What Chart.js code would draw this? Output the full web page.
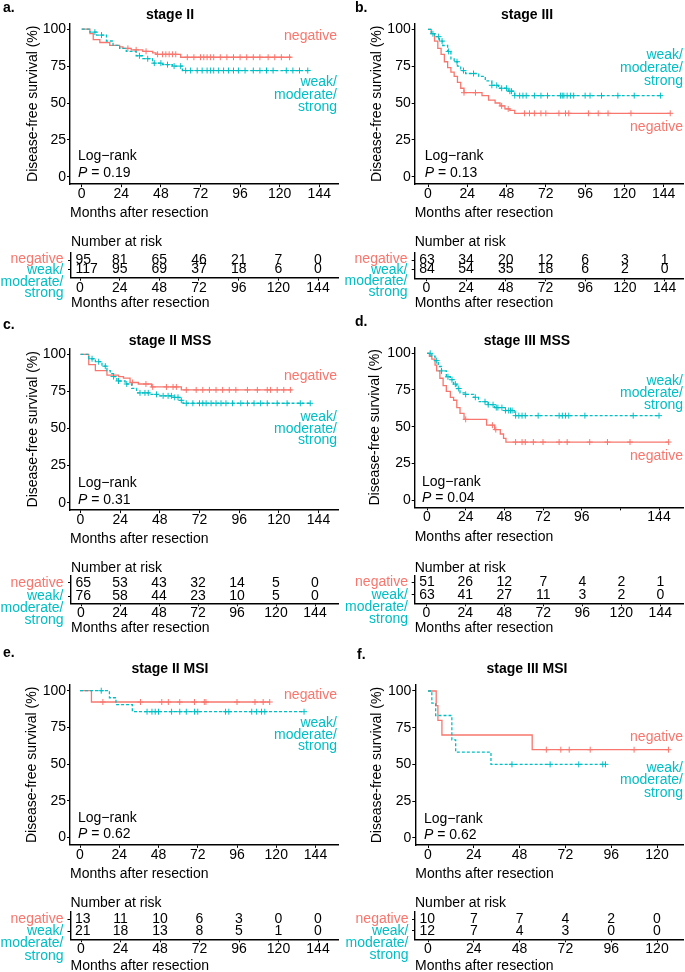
<!DOCTYPE html>
<html>
<head>
<meta charset="utf-8">
<script src="https://cdn.jsdelivr.net/npm/chart.js@4.4.1/dist/chart.umd.min.js"></script>
<style>
html, body { margin: 0; padding: 0; background: #fff; }
#page { position: relative; width: 685px; height: 972px; overflow: hidden; }
canvas { position: absolute; }
</style>
</head>
<body>
<div id="page"></div>
<script>
// ---- data ----
const xTicks144 = [0, 24, 48, 72, 96, 120, 144];
const xTicks120 = [0, 24, 48, 72, 96, 120];
const xLabelsD = ['0', '24', '48', '72', '96', '', '144'];
const yTicks = [0, 25, 50, 75, 100];
const riskTimes = [0, 24, 48, 72, 96, 120, 144];
const riskTimesF = [0, 24, 48, 72, 96, 120];

// stage II
const aNegT = [0, 5, 7, 11, 17, 23, 25, 30, 37, 43, 45, 60, 127];
const aNegS = [100, 97, 93, 91, 89, 88, 87, 86, 85, 84, 83, 81, 81];
const aNegC = [28, 33, 39, 46, 49, 51, 53, 55, 57, 64, 68, 72, 74, 76, 78, 80, 84, 88, 92, 96, 100, 104, 108, 113, 117, 121, 126];
const aPosT = [0, 5, 9, 15, 19, 23, 27, 33, 37, 43, 49, 55, 61, 138];
const aPosS = [100, 98, 96, 92, 89, 87, 85, 82, 80, 77, 76, 75, 72, 72];
const aPosC = [8, 12, 35, 40, 44, 48, 52, 56, 60, 63, 66, 70, 73, 76, 78, 80, 83, 86, 89, 92, 95, 99, 104, 108, 112, 116, 124, 128, 132, 137];
const aRiskNeg = [95, 81, 65, 46, 21, 7, 0];
const aRiskPos = [117, 95, 69, 37, 18, 6, 0];

// stage III
const bNegT = [0, 2, 4, 6, 8, 10, 12, 14, 16, 18, 20, 22, 33, 37, 41, 44, 47, 50, 53, 148];
const bNegS = [100, 97, 92, 87, 83, 78, 74, 71, 68, 64, 60, 57, 55, 52, 50, 48, 46, 45, 43, 43];
const bNegC = [22, 29, 45, 49, 59, 62, 65, 69, 72, 80, 84, 86, 98, 104, 110, 124, 148];
const bPosT = [0, 2, 4, 7, 9, 12, 14, 16, 18, 20, 23, 31, 35, 39, 43, 49, 53, 142];
const bPosS = [100, 97, 95, 92, 89, 85, 80, 78, 75, 72, 70, 68, 65, 62, 60, 58, 55, 55];
const bPosC = [3, 6.5, 8.6, 12.6, 17.7, 21.7, 27.8, 39, 42, 45, 48, 50, 51, 53, 56, 58, 60, 65, 69, 73, 81, 82, 83, 85, 87, 89, 96, 99, 106, 116, 126, 142];
const bRiskNeg = [63, 34, 20, 12, 6, 3, 1];
const bRiskPos = [84, 54, 35, 18, 6, 2, 0];

// stage II MSS
const cNegT = [0, 5, 9, 16, 23, 26, 30, 35, 43, 61, 128];
const cNegS = [100, 93, 89, 86, 85, 84, 81, 80, 78, 76, 76];
const cNegC = [31.5, 39.6, 43.7, 52, 56, 58, 64, 70, 74, 78, 82, 86, 90, 94, 101, 107, 113, 115, 119, 123, 127];
const cPosT = [0, 5, 9, 13, 16, 18, 20, 22, 27, 31, 34, 42, 47, 56, 60, 62, 139];
const cPosS = [100, 97, 95, 92, 89, 87, 85, 82, 80, 77, 74, 73, 72, 71, 69, 67, 67];
const cPosC = [7, 11, 15, 20, 23, 28, 36, 39, 41, 46, 50, 53, 55, 57, 59, 61, 64, 68, 72, 74, 76, 79, 82, 85, 88, 92, 97, 101, 105, 109, 113, 119, 125, 133, 139];
const cRiskNeg = [65, 53, 43, 32, 14, 5, 0];
const cRiskPos = [76, 58, 44, 23, 10, 5, 0];

// stage III MSS
const dNegT = [0, 1.5, 3, 5, 6, 8, 10, 12, 14.5, 16.5, 18.5, 20.5, 23, 37, 42, 45.5, 47.5, 49, 150];
const dNegS = [100, 98, 96, 92, 88, 83, 78, 74, 70, 68, 63, 59, 55, 51, 48, 45, 42, 39.5, 39.5];
const dNegC = [24, 40.6, 42.7, 55, 59, 61, 66, 72, 82, 87, 101, 112, 126, 150];
const dPosT = [0, 3, 5, 7, 9, 12, 14.5, 16.5, 18.5, 20.5, 24, 29, 32, 38, 42, 48.5, 53, 55, 144];
const dPosS = [100, 98, 95, 91, 88, 84, 82, 79, 76, 73, 72, 70, 67, 65, 63, 61, 60, 57.5, 57.5];
const dPosC = [2, 6, 9, 13, 15.5, 17.6, 19.7, 24, 30, 36, 38, 41, 43, 44, 46.5, 48.7, 50.7, 51.8, 52.8, 55, 57, 59, 61, 69, 82, 84, 86, 88, 98, 128, 144];
const dRiskNeg = [51, 26, 12, 7, 4, 2, 1];
const dRiskPos = [63, 41, 27, 11, 3, 2, 0];

// stage II MSI
const eNegT = [0, 7, 116];
const eNegS = [100, 92.3, 92.3];
const eNegC = [14, 37, 50, 54, 61, 70, 76, 77, 96, 107, 112, 116];
const ePosT = [0, 18, 22, 32, 137];
const ePosS = [100, 95.2, 90.5, 85.7, 85.7];
const ePosC = [13, 41, 44, 46, 48, 56, 61, 65, 70, 72, 89, 91, 105, 108, 111, 113, 137];
const eRiskNeg = [13, 11, 10, 6, 3, 0, 0];
const eRiskPos = [21, 18, 13, 8, 5, 1, 0];

// stage III MSI
const fNegT = [0, 4.3, 5.2, 7.3, 54.6, 126];
const fNegS = [100, 90, 80, 70, 60, 60];
const fNegC = [62, 69.6, 74, 85, 108, 126];
const fPosT = [0, 2, 4, 12.5, 14.5, 33, 93];
const fPosS = [100, 91.7, 83.3, 66.7, 58.3, 50, 50];
const fPosC = [44, 64, 79, 91.6, 93];
const fRiskNeg = [10, 7, 7, 4, 2, 0];
const fRiskPos = [12, 7, 4, 3, 0, 0];

// ---- drawing ----
const RED = '#F8766D', CYAN = '#00BFC4';
const FONT = '"Liberation Sans", Arial, Helvetica, sans-serif';
const Y_MIN = -5, Y_MAX = 104;
Chart.defaults.font.family = FONT;
Chart.defaults.font.size = 14;
Chart.defaults.color = '#000';

function survAt(times, surv, t) {
  let s = surv[0];
  for (let i = 0; i < times.length; i++) if (times[i] <= t) s = surv[i];
  return s;
}

function addCanvas(cell) {
  const c = document.createElement('canvas');
  c.width = cell[2]; c.height = cell[3];
  c.style.left = cell[0] + 'px'; c.style.top = cell[1] + 'px';
  c.style.width = cell[2] + 'px'; c.style.height = cell[3] + 'px';
  document.getElementById('page').appendChild(c);
  return c;
}

// items: {x, y, parts:[[text, style]], color, align}
function drawText(ctx, items, ox, oy) {
  items.forEach(it => {
    ctx.save();
    ctx.fillStyle = it.color || '#000';
    ctx.textBaseline = 'middle';
    ctx.textAlign = 'left';
    const fonts = it.parts.map(p => (p[1] ? p[1] + ' ' : '') + '14px ' + FONT);
    let w = 0;
    it.parts.forEach((p, i) => { ctx.font = fonts[i]; w += ctx.measureText(p[0]).width; });
    let x = it.x - ox;
    if (it.align === 'right') x -= w;
    else if (it.align === 'center') x -= w / 2;
    it.parts.forEach((p, i) => {
      ctx.font = fonts[i];
      ctx.fillText(p[0], x, it.y - oy);
      x += ctx.measureText(p[0]).width;
    });
    ctx.restore();
  });
}

function txt(t, x, y, opt) { return Object.assign({parts: [[t, '']], x, y}, opt || {}); }

function groupLabels(negX, negY, posX, posYs) {
  return [
    txt('negative', negX, negY, {color: RED, align: 'right'}),
    txt('weak/', posX, posYs[0], {color: CYAN, align: 'right'}),
    txt('moderate/', posX, posYs[1], {color: CYAN, align: 'right'}),
    txt('strong', posX, posYs[2], {color: CYAN, align: 'right'})
  ];
}

function axisOpts(extra) {
  return Object.assign({
    type: 'linear',
    grid: {drawOnChartArea: false, tickLength: 3, color: '#000', lineWidth: 1},
    border: {color: '#000', width: 1.4}
  }, extra);
}

function kmChart(p) {
  const [cl, ct, cw, ch] = p.cell;
  const cv = addCanvas(p.cell);
  const ky = (p.py0 - p.py100) / 100;
  const areaT = p.py100 - (Y_MAX - 100) * ky;
  const areaB = p.py0 - Y_MIN * ky;
  const kx = (p.pxLast - p.px0) / p.ticks[p.ticks.length - 1];
  const padL = p.yTitleX - 7 - cl;
  const datasets = [];
  p.groups.forEach(g => {
    datasets.push({
      data: g.t.map((t, i) => ({x: t, y: g.s[i]})),
      borderColor: g.color, borderWidth: 1.3, borderDash: g.dash,
      stepped: 'before', pointRadius: 0, fill: false
    });
    datasets.push({
      data: g.c.map(t => ({x: t, y: survAt(g.t, g.s, t)})),
      showLine: false, pointStyle: 'cross', pointRadius: 3,
      borderWidth: 1, borderColor: g.color, backgroundColor: g.color
    });
  });
  const texts = [
    txt(p.label[0], p.label[1], p.label[2], {parts: [[p.label[0], 'bold']]}),
    txt(p.title[0], p.title[1], p.title[2], {parts: [[p.title[0], 'bold']], align: 'center'}),
    txt('Log\u2212rank', p.lr[0], p.lr[1]),
    {parts: [['P', 'italic'], [' = ' + p.pval, '']], x: p.lr[0], y: p.lr[2]}
  ].concat(groupLabels(p.neg[0], p.neg[1], p.pos[0], p.pos[1]));

  new Chart(cv, {
    type: 'line',
    data: {datasets},
    options: {
      responsive: false,
      animation: false,
      layout: {autoPadding: false, padding: {left: padL, top: areaT - ct, right: cl + cw - p.axisR, bottom: ct + ch - (p.xTitleY + 7)}},
      plugins: {legend: {display: false}, tooltip: {enabled: false}},
      scales: {
        x: axisOpts({
          min: (p.axisL - p.px0) / kx,
          max: (p.axisR - p.px0) / kx,
          afterBuildTicks: s => { s.ticks = p.ticks.map(v => ({value: v})); },
          afterFit: s => { s.height = p.xTitleY + 7 - areaB; },
          ticks: {padding: 0, maxRotation: 0, autoSkip: false, color: '#000', font: {size: 14, lineHeight: 1},
                  callback: (v, i) => p.xLabels ? p.xLabels[i] : String(v)},
          title: {display: true, text: 'Months after resection', align: 'start', padding: 0, color: '#000', font: {size: 14, lineHeight: 1}}
        }),
        y: axisOpts({
          min: Y_MIN,
          max: Y_MAX,
          afterBuildTicks: s => { s.ticks = yTicks.map(v => ({value: v})); },
          afterFit: s => { s.width = p.axisL - cl - padL; },
          ticks: {padding: 1, color: '#000', font: {size: 14, lineHeight: 1}},
          title: {display: true, text: 'Disease-free survival (%)', padding: 0, color: '#000', font: {size: 14, lineHeight: 1}}
        })
      }
    },
    plugins: [{id: 'ann', afterDraw: chart => drawText(chart.ctx, texts, cl, ct)}]
  });
}

function riskChart(p) {
  const [cl, ct, cw, ch] = p.cell;
  const cv = addCanvas(p.cell);
  const kx = (p.pxLast - p.px0) / p.ticks[p.ticks.length - 1];
  const k = p.row2 - p.row1;
  const yMax = 2 + (p.row1 - p.top) / k;
  const yMin = 1 - (p.axisY - p.row2) / k;
  const datasets = p.counts.map((arr, r) => ({
    data: p.times.map(t => ({x: t, y: 2 - r})),
    showLine: false, pointRadius: 0
  }));
  const texts = [txt('Number at risk', p.axisL, p.nar)]
    .concat(groupLabels(p.labX, p.labY[0], p.labX, p.labY.slice(1)));

  new Chart(cv, {
    type: 'line',
    data: {datasets},
    options: {
      responsive: false,
      animation: false,
      layout: {autoPadding: false, padding: {left: p.axisL - cl - 3, top: p.top - ct, right: cl + cw - p.axisR, bottom: ct + ch - (p.xTitleY + 7)}},
      plugins: {legend: {display: false}, tooltip: {enabled: false}},
      scales: {
        x: axisOpts({
          min: (p.axisL - p.px0) / kx,
          max: (p.axisR - p.px0) / kx,
          afterBuildTicks: s => { s.ticks = p.ticks.map(v => ({value: v})); },
          afterFit: s => { s.height = p.xTitleY + 7 - p.axisY; },
          ticks: {padding: 0, maxRotation: 0, autoSkip: false, color: '#000', font: {size: 14, lineHeight: 1}},
          title: {display: true, text: 'Months after resection', align: 'start', padding: 0, color: '#000', font: {size: 14, lineHeight: 1}}
        }),
        y: axisOpts({
          min: yMin,
          max: yMax,
          afterBuildTicks: s => { s.ticks = [{value: 1}, {value: 2}]; },
          afterFit: s => { s.width = 3; },
          ticks: {display: false}
        })
      }
    },
    plugins: [
      {id: 'nums', afterDatasetsDraw(chart) {
        const ctx = chart.ctx;
        ctx.save();
        ctx.font = '14px ' + FONT;
        ctx.fillStyle = '#000';
        ctx.textBaseline = 'middle';
        p.counts.forEach((arr, r) => {
          chart.getDatasetMeta(r).data.forEach((pt, j) => {
            // first column sits just right of the axis, the rest centred on the tick
            if (j === 0) { ctx.textAlign = 'left'; ctx.fillText(String(arr[j]), chart.chartArea.left + 4.5, pt.y); }
            else { ctx.textAlign = 'center'; ctx.fillText(String(arr[j]), pt.x, pt.y); }
          });
        });
        ctx.restore();
      }},
      {id: 'ann', afterDraw: chart => drawText(chart.ctx, texts, cl, ct)}
    ]
  });
}

function grp(t, s, c, color, dash) { return {t, s, c, color, dash}; }

// ---- panels ----
kmChart({cell: [0, 0, 342, 222], axisL: 70, axisR: 338, px0: 81.7, pxLast: 319.3, ticks: xTicks144,
  py100: 29.2, py0: 176.8, yTitleX: 33, xTitleY: 213.3,
  groups: [grp(aPosT, aPosS, aPosC, CYAN, [3, 2]), grp(aNegT, aNegS, aNegC, RED, [])],
  label: ['a.', 3, 8], title: ['stage II', 170, 15], lr: [78, 156, 173.3], pval: '0.19',
  neg: [337, 36], pos: [337, [81.7, 95, 107.3]]});

kmChart({cell: [342, 0, 343, 222], axisL: 414.7, axisR: 683, px0: 428, pxLast: 663.7, ticks: xTicks144,
  py100: 29.3, py0: 176.7, yTitleX: 377, xTitleY: 213.3,
  groups: [grp(bPosT, bPosS, bPosC, CYAN, [3, 2]), grp(bNegT, bNegS, bNegC, RED, [])],
  label: ['b.', 355, 8], title: ['stage III', 527, 15], lr: [424.7, 156, 173.3], pval: '0.13',
  neg: [683, 126.7], pos: [683, [55, 68.3, 81]]});

kmChart({cell: [0, 310, 342, 240], axisL: 70, axisR: 338, px0: 80.5, pxLast: 318.5, ticks: xTicks144,
  py100: 354.3, py0: 502.7, yTitleX: 33, xTitleY: 539,
  groups: [grp(cPosT, cPosS, cPosC, CYAN, [3, 2]), grp(cNegT, cNegS, cNegC, RED, [])],
  label: ['c.', 3, 325], title: ['stage II MSS', 170, 340.7], lr: [78, 483.3, 500], pval: '0.31',
  neg: [337, 376], pos: [337, [416.7, 429.3, 440]]});

kmChart({cell: [342, 310, 343, 240], axisL: 414.7, axisR: 683, px0: 427, pxLast: 659, ticks: xTicks144, xLabels: xLabelsD,
  py100: 353.3, py0: 500, yTitleX: 375.5, xTitleY: 537.3,
  groups: [grp(dPosT, dPosS, dPosC, CYAN, [3, 2]), grp(dNegT, dNegS, dNegC, RED, [])],
  label: ['d.', 355, 322], title: ['stage III MSS', 527, 340.7], lr: [422, 482.3, 497.7], pval: '0.04',
  neg: [683, 456], pos: [683, [381, 393.3, 405]]});

kmChart({cell: [0, 640, 342, 242], axisL: 70, axisR: 338, px0: 80, pxLast: 315.5, ticks: xTicks144,
  py100: 690.7, py0: 837.5, yTitleX: 32.5, xTitleY: 874.3,
  groups: [grp(ePosT, ePosS, ePosC, CYAN, [3, 2]), grp(eNegT, eNegS, eNegC, RED, [])],
  label: ['e.', 3, 653.3], title: ['stage II MSI', 170, 669.3], lr: [78, 818.3, 834], pval: '0.62',
  neg: [337, 695], pos: [337, [723.3, 735, 746]]});

kmChart({cell: [342, 640, 343, 242], axisL: 415.3, axisR: 683, px0: 428, pxLast: 657, ticks: xTicks120,
  py100: 691, py0: 837.7, yTitleX: 377, xTitleY: 874,
  groups: [grp(fPosT, fPosS, fPosC, CYAN, [3, 2]), grp(fNegT, fNegS, fNegC, RED, [])],
  label: ['f.', 357, 655], title: ['stage III MSI', 527, 669.3], lr: [424, 819, 835], pval: '0.62',
  neg: [683, 737], pos: [683, [768.3, 780, 792.7]]});

// ---- risk tables ----
riskChart({cell: [0, 232, 342, 84], axisL: 71, axisR: 338, px0: 80, pxLast: 318, ticks: xTicks144, times: riskTimes,
  counts: [aRiskNeg, aRiskPos], row1: 260, row2: 269.3, axisY: 277.7, top: 253, nar: 241.7, xTitleY: 303.3,
  labX: 63.5, labY: [259, 270, 281.7, 292.7]});

riskChart({cell: [342, 232, 343, 84], axisL: 414.7, axisR: 683, px0: 426.3, pxLast: 664.7, ticks: xTicks144, times: riskTimes,
  counts: [bRiskNeg, bRiskPos], row1: 260, row2: 269, axisY: 278.3, top: 253, nar: 241.7, xTitleY: 303.3,
  labX: 407.5, labY: [259, 270, 281.5, 292.5]});

riskChart({cell: [0, 556, 342, 82], axisL: 71, axisR: 338, px0: 81, pxLast: 315, ticks: xTicks144, times: riskTimes,
  counts: [cRiskNeg, cRiskPos], row1: 582.7, row2: 596, axisY: 603.3, top: 576, nar: 568.3, xTitleY: 627.7,
  labX: 63.5, labY: [582.7, 596, 608.5, 620.5]});

riskChart({cell: [342, 556, 343, 82], axisL: 414.7, axisR: 683, px0: 426.3, pxLast: 660.3, ticks: xTicks144, times: riskTimes,
  counts: [dRiskNeg, dRiskPos], row1: 582, row2: 594.7, axisY: 603.3, top: 576, nar: 567.7, xTitleY: 627.7,
  labX: 408, labY: [582, 594.7, 607, 619]});

riskChart({cell: [0, 892, 342, 82], axisL: 70.5, axisR: 338, px0: 81, pxLast: 318, ticks: xTicks144, times: riskTimes,
  counts: [eRiskNeg, eRiskPos], row1: 919, row2: 931, axisY: 939.3, top: 912, nar: 902.7, xTitleY: 966,
  labX: 63.5, labY: [919.3, 930.7, 943.3, 955.7]});

riskChart({cell: [342, 892, 343, 82], axisL: 415, axisR: 683, px0: 428, pxLast: 657, ticks: xTicks120, times: riskTimesF,
  counts: [fRiskNeg, fRiskPos], row1: 919, row2: 930.7, axisY: 939.3, top: 912, nar: 902.7, xTitleY: 966,
  labX: 408.5, labY: [919, 930.7, 943, 955]});
</script>
</body>
</html>
